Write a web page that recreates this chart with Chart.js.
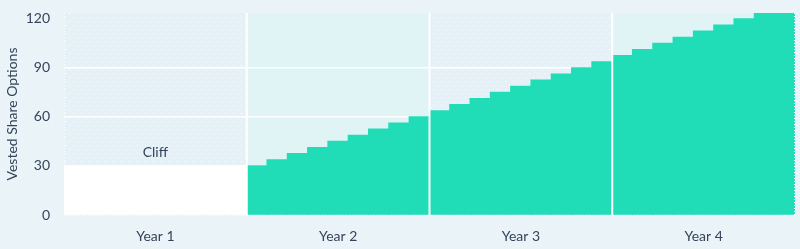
<!DOCTYPE html>
<html>
<head>
<meta charset="utf-8">
<script src="https://cdn.jsdelivr.net/npm/chart.js@4.4.1/dist/chart.umd.min.js"></script>
<style>
  html, body { margin: 0; padding: 0; background: #eaf3f8; }
  canvas { display: block; }
</style>
</head>
<body>
<canvas id="vestChart" width="800" height="249"></canvas>
<script>
// Vesting schedule data
const years = ['Year 1', 'Year 2', 'Year 3', 'Year 4'];
const stepsPerYear = 9;
const cliffValues = [30, 30, 30, 30, 30, 30, 30, 30, 30];
const year2Values = [30, 33.75, 37.5, 41.25, 45, 48.75, 52.5, 56.25, 60];
const year3Values = [63.75, 67.5, 71.25, 75, 78.75, 82.5, 86.25, 90, 93.75];
const year4Values = [97.5, 101.25, 105, 108.75, 112.5, 116.25, 120, 123.75, 127.5];
const yTicks = [0, 30, 60, 90, 120];
const cliffLabel = 'Cliff';

const values = [...cliffValues, ...year2Values, ...year3Values, ...year4Values];
const slotLabels = values.map((_, i) => years[Math.floor(i / stepsPerYear)] + ' ' + (i % stepsPerYear + 1));
const barColors = values.map((_, i) => i < stepsPerYear ? '#ffffff' : '#20ddb8');

const FONT = 'Lato, "Open Sans", sans-serif';
const TEXT = '#34445a';

function makeDots(bg, dot) {
    const c = document.createElement('canvas');
    c.width = 8; c.height = 8;
    const g = c.getContext('2d');
    g.fillStyle = bg;
    g.fillRect(0, 0, 8, 8);
    g.fillStyle = dot;
    g.fillRect(1, 1, 1, 1);
    g.fillRect(5, 5, 1, 1);
    return c;
}

const backdrop = {
    id: 'backdrop',
    beforeDraw(chart) {
        const { ctx, chartArea: a, scales: { x } } = chart;
        ctx.save();
        ctx.fillStyle = ctx.createPattern(makeDots('#eaf3f8', '#f1f7fb'), 'repeat');
        ctx.fillRect(0, 0, chart.width, chart.height);
        const dotted = ctx.createPattern(makeDots('#e6f0f7', '#ffffff'), 'repeat');
        years.forEach((_, y) => {
            const first = y * stepsPerYear;
            const left = y === 0 ? a.left : (x.getPixelForValue(first - 1) + x.getPixelForValue(first)) / 2;
            const last = first + stepsPerYear - 1;
            const right = y === years.length - 1 ? a.right : (x.getPixelForValue(last) + x.getPixelForValue(last + 1)) / 2;
            ctx.fillStyle = y % 2 === 0 ? dotted : '#e0f3f5';
            ctx.fillRect(left, a.top, right - left, a.bottom - a.top);
        });
        ctx.restore();
    },
    afterDatasetsDraw(chart) {
        const { ctx, chartArea: a, scales: { x, y } } = chart;
        ctx.save();
        ctx.strokeStyle = '#ffffff';
        ctx.lineWidth = 2;
        for (let k = 1; k < years.length; k++) {
            const i = k * stepsPerYear;
            const px = (x.getPixelForValue(i - 1) + x.getPixelForValue(i)) / 2;
            ctx.beginPath();
            ctx.moveTo(px, a.top);
            ctx.lineTo(px, a.bottom);
            ctx.stroke();
        }
        ctx.lineWidth = 1;
        ctx.setLineDash([1, 2]);
        ctx.beginPath();
        ctx.moveTo(a.left + 0.5, a.top);
        ctx.lineTo(a.left + 0.5, a.bottom);
        ctx.moveTo(a.right - 0.5, a.top);
        ctx.lineTo(a.right - 0.5, a.bottom);
        ctx.moveTo(a.left, a.bottom + 0.5);
        ctx.lineTo(a.right, a.bottom + 0.5);
        ctx.stroke();
        ctx.setLineDash([]);
        // Cliff label
        const cx = (x.getPixelForValue(0) + x.getPixelForValue(stepsPerYear - 1)) / 2;
        ctx.fillStyle = TEXT;
        ctx.font = '14px ' + FONT;
        ctx.textAlign = 'center';
        ctx.textBaseline = 'middle';
        ctx.fillText(cliffLabel, cx, y.getPixelForValue(cliffValues[0]) - 13);
        ctx.restore();
    }
};

new Chart(document.getElementById('vestChart'), {
    type: 'bar',
    data: {
        labels: slotLabels,
        datasets: [{
            data: values,
            backgroundColor: barColors,
            borderWidth: 0,
            inflateAmount: 0.6,
            barPercentage: 1,
            categoryPercentage: 1
        }]
    },
    options: {
        responsive: false,
        animation: false,
        layout: { padding: { top: 13, right: 5, left: 0, bottom: 0 } },
        plugins: {
            legend: { display: false },
            tooltip: { enabled: false }
        },
        scales: {
            x: {
                afterFit: scale => {
                    scale.height = 34;
                    scale.paddingLeft = 0;
                    scale.paddingRight = 0;
                },
                grid: { display: false, drawTicks: false },
                border: { display: false },
                ticks: {
                    autoSkip: false,
                    maxRotation: 0,
                    color: TEXT,
                    font: { family: FONT, size: 14 },
                    padding: 13,
                    callback: (v, i) => i % stepsPerYear === Math.floor(stepsPerYear / 2) ? years[Math.floor(i / stepsPerYear)] : ''
                }
            },
            y: {
                min: 0,
                max: 123.6,
                afterFit: scale => {
                    scale.width = 64;
                    scale.paddingTop = 0;
                    scale.paddingBottom = 0;
                },
                afterBuildTicks: scale => {
                    scale.ticks = yTicks.map(v => ({ value: v }));
                },
                border: { display: false },
                grid: {
                    drawTicks: false,
                    lineWidth: 1.5,
                    color: ctx => (ctx.tick && ctx.tick.value > 0 && ctx.tick.value < 120) ? '#ffffff' : 'rgba(0,0,0,0)'
                },
                ticks: {
                    color: TEXT,
                    font: { family: FONT, size: 14 },
                    padding: 14
                },
                title: {
                    display: true,
                    text: 'Vested Share Options',
                    color: TEXT,
                    font: { family: FONT, size: 14 },
                    padding: { top: 4, bottom: 4 }
                }
            }
        }
    },
    plugins: [backdrop]
});
</script>
</body>
</html>
